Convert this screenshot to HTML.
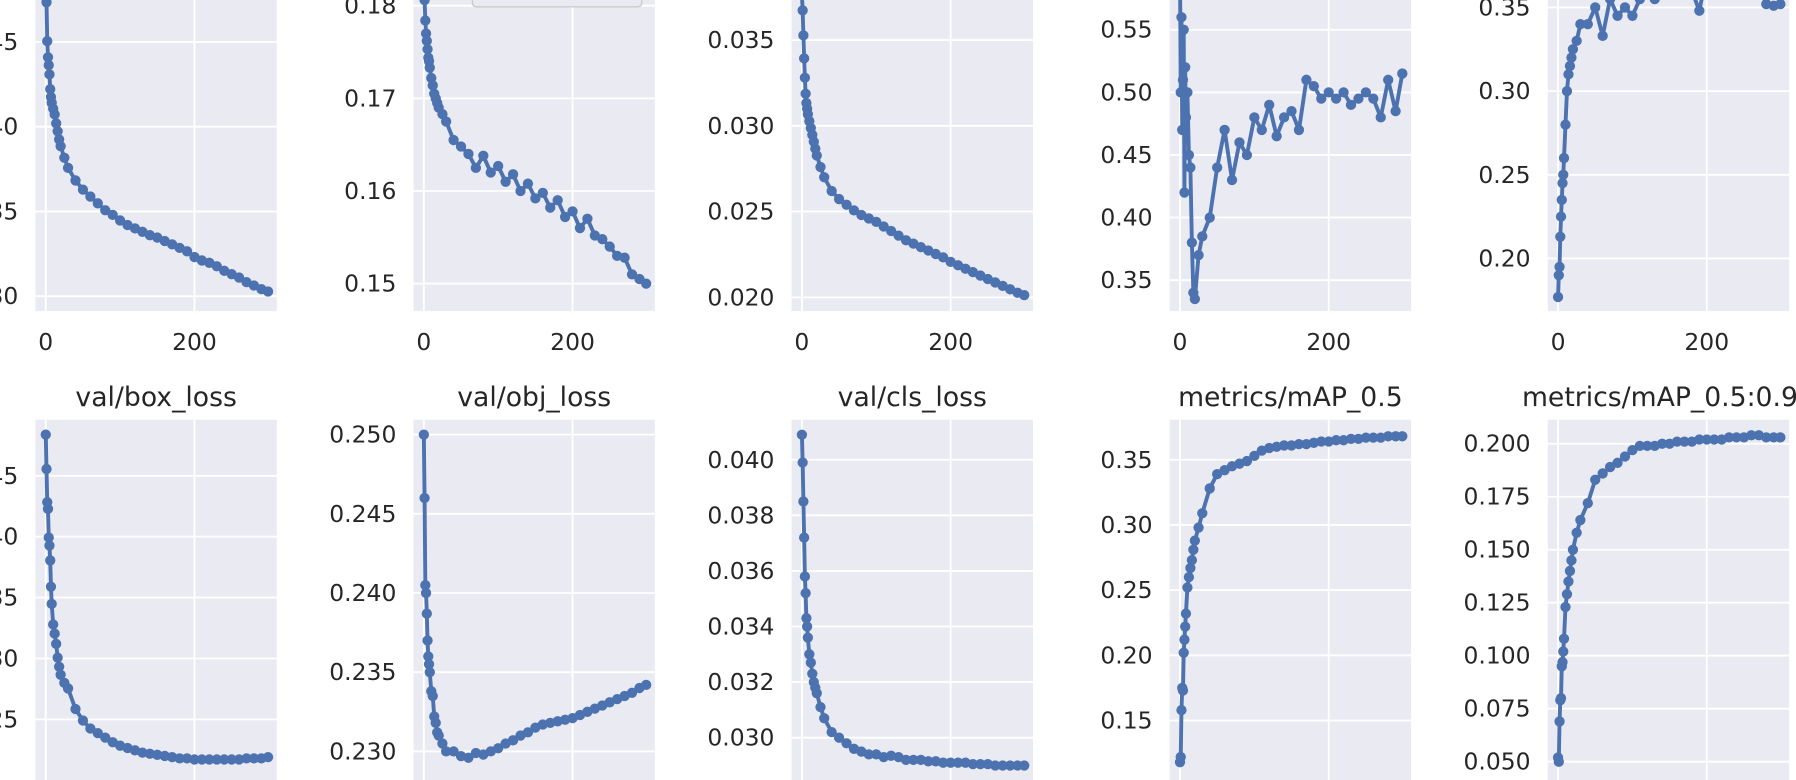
<!DOCTYPE html>
<html><head><meta charset="utf-8">
<style>
html,body{margin:0;padding:0;background:#fff;width:1796px;height:780px;overflow:hidden}
svg{display:block;overflow:hidden}
text{font-family:"DejaVu Sans","Liberation Sans",sans-serif;fill:#262626}
</style></head>
<body>
<svg id="chart" width="1796" height="780" viewBox="0 0 1570 682" preserveAspectRatio="none" xmlns="http://www.w3.org/2000/svg"></svg>
<script>
const epochs = [0,1,2,3,4,5,6,7,8,10,12,14,16,18,20,25,30,40,50,60,70,80,90,100,110,120,130,140,150,160,170,180,190,200,210,220,230,240,250,260,270,280,290,299];
const xTicks = [0,200];
const xTickLabels = ["0","200"];

const titles = ["train/box_loss","train/obj_loss","train/cls_loss","metrics/precision","metrics/recall","val/box_loss","val/obj_loss","val/cls_loss","metrics/mAP_0.5","metrics/mAP_0.5:0.95"];

const trainBox = [0.04815,0.04734,0.04505,0.0441,0.04363,0.04309,0.04222,0.04175,0.04141,0.04107,0.04073,0.0402,0.03973,0.03925,0.03885,0.03817,0.03757,0.03683,0.03629,0.03588,0.03548,0.03507,0.0348,0.03447,0.0342,0.034,0.0338,0.0336,0.03346,0.03326,0.03306,0.03285,0.03265,0.03231,0.03211,0.03197,0.03177,0.0315,0.0313,0.0311,0.03083,0.03063,0.03042,0.03028];
const trainObj = [0.1831,0.1806,0.1784,0.177,0.1762,0.1753,0.1744,0.174,0.1733,0.1722,0.1714,0.1705,0.17,0.1695,0.169,0.1683,0.1675,0.1655,0.1648,0.164,0.1625,0.1638,0.162,0.1627,0.161,0.1618,0.16,0.1608,0.1592,0.1598,0.1582,0.159,0.1572,0.1578,0.156,0.157,0.1552,0.1548,0.154,0.153,0.1528,0.151,0.1505,0.15];
const trainCls = [0.03767,0.03673,0.03527,0.03393,0.0328,0.03187,0.03133,0.031,0.03067,0.03027,0.02987,0.02947,0.02907,0.02867,0.02827,0.0276,0.027,0.0262,0.02573,0.0254,0.02507,0.0248,0.0246,0.0244,0.02413,0.02387,0.0236,0.02333,0.02313,0.02293,0.02273,0.02253,0.02233,0.02207,0.02187,0.02167,0.02147,0.02127,0.02107,0.02087,0.02067,0.02047,0.02027,0.02013];
const precision = [0.60,0.50,0.56,0.47,0.51,0.55,0.42,0.52,0.48,0.50,0.45,0.44,0.38,0.34,0.335,0.37,0.385,0.40,0.44,0.47,0.43,0.46,0.45,0.48,0.47,0.49,0.465,0.48,0.485,0.47,0.51,0.505,0.495,0.50,0.495,0.50,0.49,0.495,0.50,0.495,0.48,0.51,0.485,0.515];
const recall = [0.177,0.19,0.195,0.213,0.225,0.235,0.245,0.25,0.26,0.28,0.30,0.31,0.315,0.32,0.325,0.33,0.34,0.34,0.35,0.333,0.355,0.345,0.35,0.345,0.355,0.36,0.355,0.36,0.365,0.36,0.365,0.36,0.348,0.37,0.37,0.37,0.37,0.37,0.37,0.37,0.365,0.352,0.351,0.352];
const valBox = [0.04838,0.04556,0.04284,0.04228,0.03993,0.03927,0.03805,0.03589,0.03448,0.03279,0.03204,0.0312,0.03007,0.02932,0.02866,0.028,0.02754,0.02585,0.02491,0.02425,0.02387,0.0235,0.02312,0.02284,0.02265,0.02246,0.02227,0.02218,0.02209,0.022,0.0219,0.0218,0.0218,0.02171,0.02171,0.02171,0.02171,0.02171,0.02171,0.02171,0.0218,0.0218,0.0218,0.0219];
const valObj = [0.250,0.246,0.2405,0.240,0.2387,0.237,0.236,0.2355,0.235,0.2338,0.2335,0.2322,0.2318,0.2312,0.231,0.2305,0.230,0.230,0.2297,0.2296,0.2299,0.2298,0.230,0.2302,0.2305,0.2307,0.231,0.2312,0.2315,0.2317,0.2318,0.2319,0.232,0.2321,0.2323,0.2325,0.2327,0.2329,0.2331,0.2333,0.2335,0.2337,0.234,0.2342];
const valCls = [0.0409,0.0399,0.0385,0.0372,0.0358,0.0352,0.0343,0.034,0.0336,0.033,0.0327,0.0323,0.032,0.0318,0.0316,0.0311,0.0307,0.0302,0.030,0.0298,0.0296,0.0295,0.0294,0.0294,0.0293,0.02935,0.0293,0.0292,0.0292,0.0292,0.02915,0.02915,0.0291,0.0291,0.0291,0.0291,0.02905,0.02905,0.02905,0.029,0.029,0.029,0.029,0.029];
const map50 = [0.118,0.122,0.158,0.175,0.173,0.202,0.212,0.222,0.232,0.252,0.260,0.267,0.273,0.281,0.288,0.298,0.309,0.328,0.339,0.342,0.345,0.347,0.349,0.353,0.357,0.359,0.360,0.361,0.361,0.362,0.362,0.363,0.364,0.364,0.365,0.365,0.366,0.366,0.367,0.367,0.367,0.368,0.368,0.368];
const map5095 = [0.052,0.050,0.069,0.079,0.080,0.095,0.097,0.102,0.108,0.123,0.129,0.135,0.140,0.145,0.150,0.158,0.164,0.172,0.183,0.186,0.189,0.191,0.194,0.197,0.199,0.199,0.199,0.200,0.200,0.201,0.201,0.201,0.202,0.202,0.202,0.202,0.203,0.203,0.203,0.204,0.204,0.203,0.203,0.203];

const yTickValues = [
  [0.045,0.040,0.035,0.030],
  [0.18,0.17,0.16,0.15],
  [0.035,0.030,0.025,0.020],
  [0.55,0.50,0.45,0.40,0.35],
  [0.35,0.30,0.25,0.20],
  [0.045,0.040,0.035,0.030,0.025],
  [0.250,0.245,0.240,0.235,0.230],
  [0.040,0.038,0.036,0.034,0.032,0.030],
  [0.35,0.30,0.25,0.20,0.15],
  [0.200,0.175,0.150,0.125,0.100,0.075,0.050]
];
const yTickLabels = [
  ["0.045","0.040","0.035","0.030"],
  ["0.18","0.17","0.16","0.15"],
  ["0.035","0.030","0.025","0.020"],
  ["0.55","0.50","0.45","0.40","0.35"],
  ["0.35","0.30","0.25","0.20"],
  ["0.045","0.040","0.035","0.030","0.025"],
  ["0.250","0.245","0.240","0.235","0.230"],
  ["0.040","0.038","0.036","0.034","0.032","0.030"],
  ["0.35","0.30","0.25","0.20","0.15"],
  ["0.200","0.175","0.150","0.125","0.100","0.075","0.050"]
];
const series = [trainBox,trainObj,trainCls,precision,recall,valBox,valObj,valCls,map50,map5095];

const yRange = [[36.7,259],[5,248],[35,260],[26,245],[6.5,226],[416,629],[380,657],[402,645],[402,630],[388,666]];
const NS = "http://www.w3.org/2000/svg";
const svg = document.getElementById('chart');
function mk(tag, attrs, parent){const e=document.createElementNS(NS,tag);for(const k in attrs)e.setAttribute(k,attrs[k]);(parent||svg).appendChild(e);return e;}

const defs = mk('defs',{});
for (let i=0;i<10;i++){
  const row = i<5?0:1, col = i%5;
  const x0 = 40 + 330.5*col;
  const pxPerEp = 0.65;
  const xs = v => x0 + v*pxPerEp;
  const tv = yTickValues[i], yr = yRange[i];
  const vTop = tv[0], vBot = tv[tv.length-1];
  const ys = v => yr[0] + (vTop - v)/(vTop - vBot)*(yr[1]-yr[0]);
  const bgTop = row===0 ? 0 : 367, bgBot = row===0 ? 272 : 682;
  const bx = x0-9, bw = 211;

  const g = mk('g',{});
  
  

  const cp = mk('clipPath',{id:'clip'+i},defs);
  mk('rect',{x:bx,y:bgTop,width:bw,height:bgBot-bgTop},cp);

  const bg = mk('rect',{x:bx,y:bgTop,width:bw,height:bgBot-bgTop,fill:'#eaeaf2'},g);
  
  

  tv.forEach((v,k)=>{
    const y = ys(v);
    const gl = mk('line',{x1:bx,x2:bx+bw,y1:y,y2:y,stroke:'#fff','stroke-width':1.6},g);
    
    
    const t = mk('text',{x:x0-24,y:y+7,'text-anchor':'end','font-size':20.5},g);
    t.textContent = yTickLabels[i][k];
    
    
  });
  xTicks.forEach((v,k)=>{
    const x = xs(v);
    const gl = mk('line',{x1:x,x2:x,y1:bgTop,y2:bgBot,stroke:'#fff','stroke-width':1.6},g);
    
    
    if (row===0){
      const t = mk('text',{x:x,y:306,'text-anchor':'middle','font-size':20.5},g);
      t.textContent = xTickLabels[k];
      
      
    }
  });

  const dg = mk('g',{'clip-path':'url(#clip'+i+')'},g);
  const d = series[i];
  let pts = epochs.map((e,k)=>xs(e).toFixed(2)+','+ys(d[k]).toFixed(2)).join(' ');
  const pl = mk('polyline',{points:pts,fill:'none',stroke:'#4c72b0','stroke-width':3.4,'stroke-linejoin':'round'},dg);
  
  
  epochs.forEach((e,k)=>{
    const c = mk('circle',{cx:xs(e),cy:ys(d[k]),r:4.5,fill:'#4c72b0'},dg);
    
    
  });

  if (row===1){
    const title = mk('text',{x:x0+96.5,y:355,'text-anchor':'middle','font-size':23.3},g);
    title.textContent = titles[i];
    
    
  }

  if (i===1){
    const lg = mk('path',{d:'M413,0 L413,2 Q413,6 417,6 L557,6 Q561,6 561,2 L561,0',fill:'#eaeaf2',stroke:'#cccccc','stroke-width':1.2},g);
    
    
  }
}
</script>
</body></html>
